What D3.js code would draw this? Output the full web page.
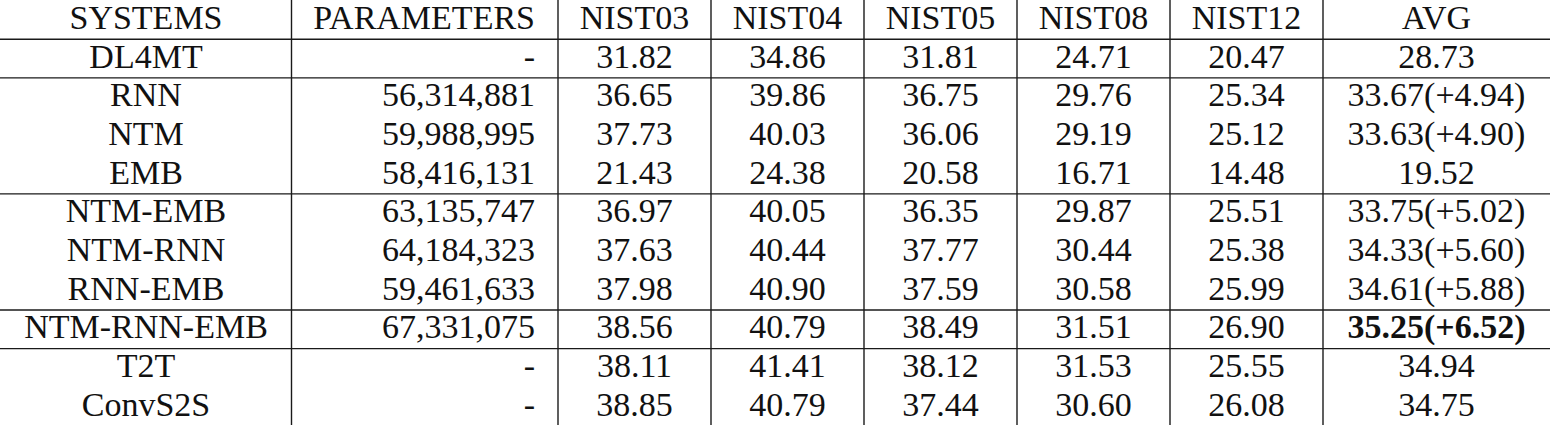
<!doctype html>
<html>
<head>
<meta charset="UTF-8">
<title>results table</title>
<script src="https://d3js.org/d3.v7.min.js"></script>
<style>
  body { margin: 0; background: #fff; }
</style>
</head>
<body>
<svg width="1550" height="429"></svg>
<script>
// table contents
var headers = ["SYSTEMS", "PARAMETERS", "NIST03", "NIST04", "NIST05", "NIST08", "NIST12", "AVG"];
var systems = ["DL4MT", "RNN", "NTM", "EMB", "NTM-EMB", "NTM-RNN", "RNN-EMB", "NTM-RNN-EMB", "T2T", "ConvS2S"];
var parameters = ["-", "56,314,881", "59,988,995", "58,416,131", "63,135,747", "64,184,323", "59,461,633", "67,331,075", "-", "-"];
var nist03 = [31.82, 36.65, 37.73, 21.43, 36.97, 37.63, 37.98, 38.56, 38.11, 38.85];
var nist04 = [34.86, 39.86, 40.03, 24.38, 40.05, 40.44, 40.90, 40.79, 41.41, 40.79];
var nist05 = [31.81, 36.75, 36.06, 20.58, 36.35, 37.77, 37.59, 38.49, 38.12, 37.44];
var nist08 = [24.71, 29.76, 29.19, 16.71, 29.87, 30.44, 30.58, 31.51, 31.53, 30.60];
var nist12 = [20.47, 25.34, 25.12, 14.48, 25.51, 25.38, 25.99, 26.90, 25.55, 26.08];
var avg = [28.73, 33.67, 33.63, 19.52, 33.75, 34.33, 34.61, 35.25, 34.94, 34.75];
var avgGain = [null, 4.94, 4.90, null, 5.02, 5.60, 5.88, 6.52, null, null];
var boldRow = "NTM-RNN-EMB";
// horizontal rules go below these systems
var ruleAfter = ["DL4MT", "EMB", "RNN-EMB", "NTM-RNN-EMB"];

var svg = d3.select("svg");
var W = 1550, tableBottom = 425;

var rows = ["__header"].concat(systems);
var y = d3.scaleBand().domain(rows).range([0.5, 426]);

var nistCols = headers.slice(2, 7);
var xn = d3.scaleBand().domain(nistCols).range([558, 1323]);
var colEdges = [291.5, 558].concat(nistCols.slice(1).map(function(c){ return xn(c); })).concat([1323]);

var nistData = [nist03, nist04, nist05, nist08, nist12];

// position / anchor of each column
function colX(i){
  if(i === 0) return 146;
  if(i === 1) return 535;
  if(i === 7) return (1323 + W) / 2;
  return xn(headers[i]) + xn.bandwidth() / 2;
}
function colAnchor(i){ return i === 1 ? "end" : "middle"; }

// build cell list
var cells = [];
headers.forEach(function(h, i){
  cells.push({row: "__header", col: i, text: h, bold: false});
});
systems.forEach(function(s, r){
  var b = s === boldRow;
  cells.push({row: s, col: 0, text: s, bold: false});
  cells.push({row: s, col: 1, text: parameters[r], bold: false});
  nistData.forEach(function(arr, k){
    cells.push({row: s, col: k + 2, text: arr[r].toFixed(2), bold: false});
  });
  var a = avg[r].toFixed(2) + (avgGain[r] != null ? "(+" + avgGain[r].toFixed(2) + ")" : "");
  cells.push({row: s, col: 7, text: a, bold: b});
});

svg.append("g").selectAll("text")
  .data(cells)
  .enter().append("text")
  .attr("x", function(d){ return colX(d.col); })
  .attr("y", function(d){ return y(d.row) + 28.5; })
  .attr("text-anchor", function(d){ return colAnchor(d.col); })
  .attr("font-family", "Liberation Serif")
  .attr("font-size", 34)
  .attr("fill", "#111")
  .attr("font-weight", function(d){ return d.bold ? "bold" : "normal"; })
  .text(function(d){ return d.text; });

// horizontal rules
var ruleRows = systems.slice(0, 1).concat(systems.filter(function(s){
  return ruleAfter.indexOf(s) >= 0;
}).map(function(s){ return systems[systems.indexOf(s) + 1]; }));

svg.append("g").selectAll("line")
  .data(ruleRows)
  .enter().append("line")
  .attr("x1", 0).attr("x2", W)
  .attr("y1", function(d){ return y(d); })
  .attr("y2", function(d){ return y(d); })
  .attr("stroke", "#1a1a1a")
  .attr("stroke-width", 1.4);

// vertical rules
svg.append("g").selectAll("line")
  .data(colEdges)
  .enter().append("line")
  .attr("x1", function(d){ return d; })
  .attr("x2", function(d){ return d; })
  .attr("y1", 0).attr("y2", tableBottom)
  .attr("stroke", "#1a1a1a")
  .attr("stroke-width", 1.4);
</script>
</body>
</html>
